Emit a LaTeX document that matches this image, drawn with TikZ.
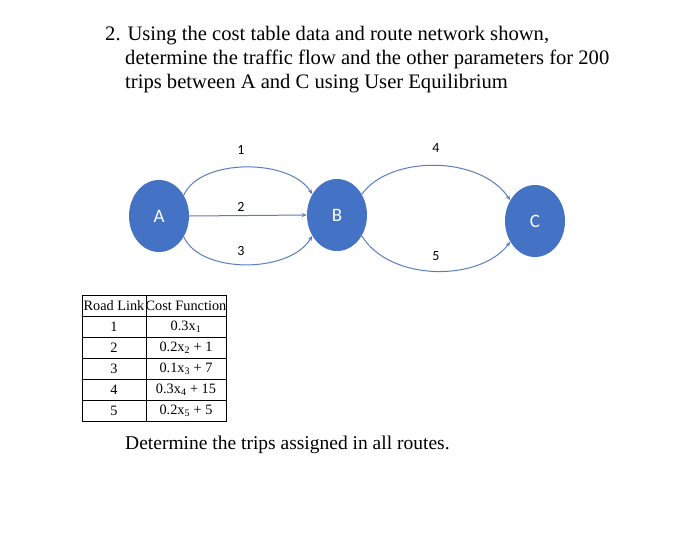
\documentclass[tikz,border=0pt]{standalone}
\usepackage{fontspec}
\setmainfont{Liberation Serif}
\newfontfamily\calib{Carlito}
\usetikzlibrary{arrows.meta,shapes.geometric}
\definecolor{nodeblue}{HTML}{4472C4}
\definecolor{edgeblue}{HTML}{5B7DBA}
\begin{document}
\begin{tikzpicture}[x=1pt,y=-1pt,
  city/.style={ellipse,fill=nodeblue,minimum width=60pt,minimum height=72pt,inner sep=0pt,text=white,font=\calib\fontsize{19}{22}\selectfont},
  link/.style={edgeblue,line width=1pt,-{Stealth[length=5pt,width=4pt]}},
  lab/.style={font=\calib\fontsize{14}{16}\selectfont},
  txt/.style={anchor=base west,inner sep=0pt,font=\fontsize{20.6}{24}\selectfont},
  cell/.style={font=\fontsize{14.3}{16}\selectfont,inner sep=0pt}]
\useasboundingbox (0,0) rectangle (700,541);
\node[txt] (t1) at (105,40) {2. Using the cost table data and route network shown,};
\node[txt] (t2) at (125,64) {determine the traffic flow and the other parameters for 200};
\node[txt] (t3) at (125,88) {trips between A and C using User Equilibrium};
\node[city] (A) at (159,216) {A};
\node[city] (B) at (337,215) {B};
\node[city] (C) at (535,221) {C};
\draw[link] (A.40) .. controls (200,158) and (290,158) .. (B.140);
\draw[link] (A.east) -- (B.west);
\draw[link] (A.-40) .. controls (200,274) and (290,274) .. (B.-140);
\draw[link] (B.40) .. controls (390,155) and (480,155) .. (C.140);
\draw[link] (B.-40) .. controls (390,282) and (480,282) .. (C.-140);
\node[lab] (l1) at (241,150) {1};
\node[lab] (l2) at (241,207) {2};
\node[lab] (l3) at (241,251) {3};
\node[lab] (l4) at (436,148) {4};
\node[lab] (l5) at (436,256) {5};
% table
\draw[line width=0.8pt] (82,295) rectangle (226,421);
\foreach \y in {316,337,358,379,400} \draw[line width=0.6pt] (82,\y) -- (226,\y);
\draw[line width=0.6pt] (146,295) -- (146,421);
\node[cell] (h1) at (114,305.5) {Road Link};
\node[cell] (h2) at (186,305.5) {Cost Function};
\node[cell] (r1a) at (114,326.5) {1};
\node[cell] (r1b) at (186,326.5) {0.3x\textsubscript{1}};
\node[cell] (r2a) at (114,347.5) {2};
\node[cell] (r2b) at (186,347.5) {0.2x\textsubscript{2} + 1};
\node[cell] (r3a) at (114,368.5) {3};
\node[cell] (r3b) at (186,368.5) {0.1x\textsubscript{3} + 7};
\node[cell] (r4a) at (114,389.5) {4};
\node[cell] (r4b) at (186,389.5) {0.3x\textsubscript{4} + 15};
\node[cell] (r5a) at (114,410.5) {5};
\node[cell] (r5b) at (186,410.5) {0.2x\textsubscript{5} + 5};
\node[txt,font=\fontsize{19.5}{22}\selectfont] (t4) at (125,449) {Determine the trips assigned in all routes.};
\end{tikzpicture}
\end{document}
